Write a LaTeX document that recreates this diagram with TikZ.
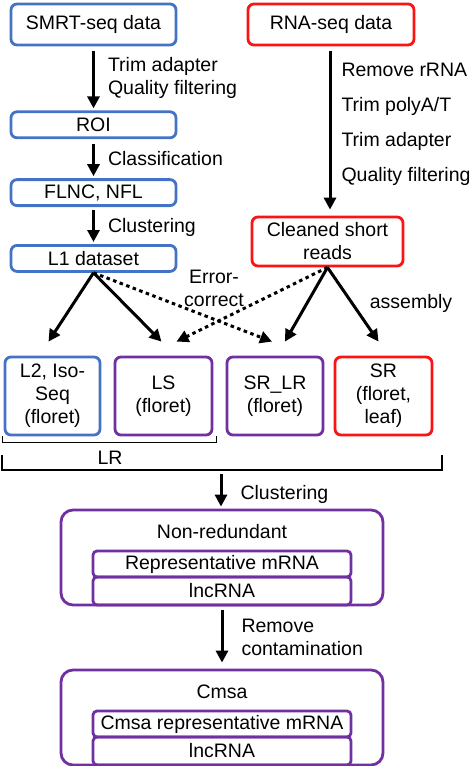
\documentclass[tikz,border=0pt]{standalone}
\usepackage{fontspec}
\setmainfont{Liberation Sans}
\usepackage{tikz}
\usetikzlibrary{arrows.meta,positioning}
\definecolor{smrtblue}{RGB}{68,114,196}
\definecolor{rnared}{RGB}{250,20,20}
\definecolor{lrpurple}{RGB}{112,48,160}
\tikzset{
  box/.style = {align=center, inner sep=0pt, text centered, rounded corners=6pt,
    line width=2.8pt, font=\fontsize{19.5}{23}\selectfont},
  box_b/.style = {box, draw=smrtblue},% long reads
  box_r/.style = {box, draw=rnared},% short reads
  box_p/.style = {box, draw=lrpurple},% merged sets
  box_i/.style = {box, draw=lrpurple, rounded corners=4pt,
    minimum width=258pt},% inner list
  lbl/.style = {align=left, inner sep=0pt, font=\fontsize{19.5}{23}\selectfont},
  flow/.style = {->, line width=3pt},
  cor/.style = {->, line width=3pt, dash pattern=on 3.5pt off 3.5pt},
  brk/.style = {line width=1.4pt}
}
\begin{document}
\begin{tikzpicture}[x=1pt,y=-1pt,>={Triangle[length=12pt,width=12pt]}]
        \useasboundingbox (0,0) rectangle (474,766);
        % long reads
        \node [box_b, minimum width=165pt, minimum height=41pt](smrt) at (93.5,24.5) {SMRT-seq data};
        \node [box_b, minimum width=165pt, minimum height=26pt, below=64pt of smrt](roi) {ROI};
        \node [box_b, minimum width=165pt, minimum height=26pt, below=39pt of roi](flnc) {FLNC, NFL};
        \node [box_b, minimum width=165pt, minimum height=26pt, below=37pt of flnc](l1) {L1 dataset};
        % short reads
        \node [box_r, minimum width=166pt, minimum height=41pt](rna) at (331,24.5) {RNA-seq data};
        \node [box_r, minimum width=151pt, minimum height=49pt](clean) at (327.5,241.5) {Cleaned short\\reads};
        % sets
        \node [box_b, minimum width=95pt, minimum height=78pt](l2) at (52.5,396) {L2, Iso-\\Seq\\(floret)};
        \node [box_p, minimum width=97pt, minimum height=78pt](ls) at (163.5,396) {LS\\(floret)};
        \node [box_p, minimum width=96pt, minimum height=78pt](srlr) at (275,396) {SR\_LR\\(floret)};
        \node [box_r, minimum width=97pt, minimum height=78pt](sr) at (383.5,396) {SR\\(floret,\\leaf)};
        % non-redundant
        \node [box_p, minimum width=322pt, minimum height=95pt, rounded corners=12pt](nr) at (222,557.5) {};
        \node [lbl](nr_t) at (222,532) {Non-redundant};
        \node [box_i, minimum height=26pt](nr_m) at (222,564) {Representative mRNA};
        \node [box_i, minimum height=28pt](nr_l) at (222,591) {lncRNA};
        % cmsa
        \node [box_p, minimum width=322pt, minimum height=95pt, rounded corners=12pt](cm) at (222,717.5) {};
        \node [lbl](cm_t) at (222,692) {Cmsa};
        \node [box_i, minimum height=26pt](cm_m) at (222,724) {Cmsa representative mRNA};
        \node [box_i, minimum height=28pt](cm_l) at (222,751) {lncRNA};

        \draw [flow, shorten <=5pt, shorten >=2pt] (smrt) -- node[lbl, right=13pt]{Trim adapter\\Quality filtering} (roi);
        \draw [flow, shorten <=5pt, shorten >=2pt] (roi) -- node[lbl, right=13pt]{Classification} (flnc);
        \draw [flow, shorten <=3pt, shorten >=2pt] (flnc) -- node[lbl, right=13pt, yshift=-2pt]{Clustering} (l1);
        \draw [flow, shorten <=5pt, shorten >=6pt] ([xshift=-1pt]rna.south) -- ([xshift=-1pt]rna.south |- clean.north)
            node[midway, lbl, right=10pt, yshift=7pt, font=\fontsize{19.5}{35}\selectfont]
            {Remove rRNA\\Trim polyA/T\\Trim adapter\\Quality filtering};

        \coordinate (l2_in) at ([xshift=-4pt,yshift=14pt]l2.north);
        \coordinate (ls_in) at ([xshift=-2pt,yshift=14pt]ls.north);
        \coordinate (ls_in2) at ([xshift=13pt,yshift=14pt]ls.north);
        \coordinate (srlr_in) at ([xshift=-3pt,yshift=14pt]srlr.north);
        \coordinate (srlr_in2) at ([xshift=10pt,yshift=14pt]srlr.north);
        \coordinate (sr_in) at ([xshift=-5pt,yshift=14pt]sr.north);
        \draw [flow] (l1.south) -- (l2_in);
        \draw [flow] (l1.south) -- (ls_in);
        \draw [cor] (l1.south) -- (srlr_in);
        \draw [cor] (clean.south) -- (ls_in2);
        \draw [flow] (clean.south) -- (srlr_in2);
        \draw [flow] (clean.south) -- (sr_in);
        \node [lbl, align=center](err) at (214,288) {Error-\\correct};
        \node [lbl](asm) at (411,303) {assembly};

        % brackets
        \draw [brk] ([xshift=-1pt]l2.south west) -- ++(0,6) -| ([xshift=3pt]ls.south east);
        \draw [brk] (2,455) -- (2,470) -- (442,470) -- (442,455);
        \node [lbl](lr) at (110,458) {LR};
        \coordinate (lr_out) at (221,474);
        \draw [flow, shorten >=2pt] (lr_out) -- node[lbl, right=18pt, yshift=-3pt]{Clustering} (lr_out |- nr.north);
        \draw [flow, shorten <=4pt, shorten >=6pt] (nr) -- node[lbl, right=18pt]{Remove\\contamination} (cm);
\end{tikzpicture}
\end{document}
